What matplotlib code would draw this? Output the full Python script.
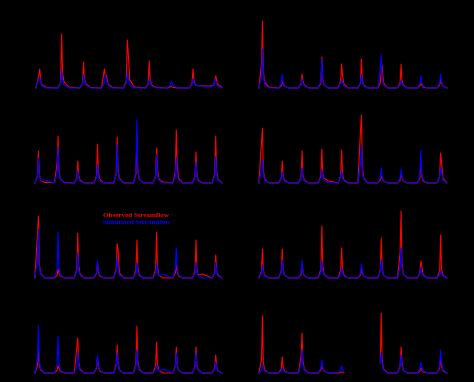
import numpy as np
import matplotlib
matplotlib.use("Agg")
import matplotlib.pyplot as plt

nan = np.nan

# sampling points inside each water year (fraction of the year)
season = [0.45, 0.58, 0.63, 0.67, 0.74, 0.95]

# observed / simulated streamflow, one row per year, six samples per row
obs_a = [[1, 13, 20, 8, 4, 1.5], [1, 6, 55, 16, 7, 2], [1, 5, 27, 10, 5, 1.5],
         [1, 20, 12, 14, 5, 1.5], [1, 8, 49, 36, 9, 2], [1, 5, 28, 10, 4, 1.5],
         [1, 2, 3, 2, 1.5, 1], [1, 5, 20, 8, 4, 3], [3, 4, 8, 13, 5, 1.5]]
sim_a = [[1, 10, 11, 7, 3, 1], [1, 5, 18, 9, 4, 1], [1, 5, 14, 8, 4, 1],
         [1, 6, 14, 9, 4, 1], [1, 6, 16, 10, 4, 1], [1, 4, 10, 7, 3, 1],
         [1, 3, 8, 6, 3, 1], [1, 4, 10, 6, 4, 3], [2, 4, 10, 7, 3, 1]]

obs_b = [[1, 25, 68, 18, 7, 2], [1, 3, 8, 5, 3, 1], [1, 5, 15, 8, 4, 1],
         [1, 6, 32, 10, 4, 1], [1, 8, 25, 14, 5, 1], [1, 6, 30, 9, 4, 1],
         [1, 6, 18, 24, 6, 1], [1, 6, 25, 9, 4, 1], [1, 3, 6, 4, 2, 1],
         [1, 4, 10, 6, 3, 1]]
sim_b = [[1, 12, 40, 14, 5, 1], [1, 5, 15, 7, 3, 1], [1, 4, 10, 6, 3, 1],
         [1, 8, 30, 10, 4, 1], [1, 6, 9, 7, 3, 1], [1, 6, 14, 8, 3, 1],
         [1, 20, 34, 12, 4, 1], [1, 4, 8, 6, 3, 1], [1, 5, 13, 7, 3, 1],
         [1, 6, 15, 8, 3, 1]]

obs_c = [[1, 8, 33, 10, 4, 1.5], [1.5, 21, 48, 14, 5, 1.5], [1, 6, 23, 9, 4, 1],
         [1, 8, 40, 12, 5, 1], [1, 10, 47, 15, 6, 1], [1, 10, 47, 14, 5, 1],
         [1, 8, 36, 16, 5, 2], [1, 12, 54, 20, 6, 1], [1, 8, 32, 10, 4, 1],
         [1, 10, 48, 14, 5, 1]]
sim_c = [[1, 8, 26, 9, 4, 4], [1, 12, 37, 12, 5, 1], [1, 5, 13, 7, 3, 1],
         [1, 6, 19, 8, 3, 1], [1, 10, 39, 12, 5, 1], [1, 12, 64, 16, 5, 1],
         [1, 8, 29, 10, 4, 1], [1, 8, 26, 9, 4, 1], [1, 7, 22, 8, 3, 1],
         [1, 8, 27, 10, 4, 1]]

obs_d = [[1, 42, 56, 14, 5, 1], [1, 6, 23, 8, 4, 1], [1, 7, 33, 9, 4, 1],
         [1, 8, 35, 10, 6, 3], [1, 8, 34, 10, 4, 1], [1, 53, 69, 18, 6, 1],
         [1, 4, 8, 6, 3, 1], [1, 4, 10, 7, 3, 1], [1, 6, 21, 8, 3, 1],
         [1, 8, 31, 22, 6, 1]]
sim_d = [[1, 14, 24, 10, 4, 1], [1, 5, 12, 7, 3, 1], [1, 6, 16, 8, 3, 1],
         [1, 6, 14, 8, 4, 1], [1, 8, 12, 7, 3, 1], [1, 20, 37, 12, 5, 1],
         [1, 6, 16, 8, 3, 1], [1, 6, 15, 8, 3, 1], [1, 8, 34, 10, 4, 1],
         [1, 8, 16, 12, 4, 1]]

obs_e = [[1, 43, 63, 16, 6, 1], [1, 4, 10, 6, 3, 1], [1, 10, 46, 14, 5, 1],
         [1, 6, 16, 8, 3, 1], [1, 10, 35, 30, 6, 1], [1, 9, 39, 12, 4, 1],
         [1, 10, 47, 12, 4, 1], [1, 6, 14, 8, 3, 1], [1, 8, 39, 10, 4, 5],
         [1, 6, 24, 9, 4, 1]]
sim_e = [[1, 18, 50, 14, 5, 1], [1, 10, 47, 12, 4, 1], [1, 8, 26, 10, 4, 1],
         [1, 7, 18, 9, 4, 1], [1, 8, 21, 10, 4, 1], [1, 6, 16, 8, 3, 1],
         [1, 6, 15, 8, 3, 5], [1, 10, 31, 12, 4, 1], [1, 6, 16, 8, 3, 1],
         [1, 6, 16, 8, 3, 1]]

obs_f = [[1, 8, 30, 9, 4, 1], [1, 8, 30, 10, 4, 1], [1, 5, 14, 8, 3, 1],
         [1, 10, 53, 14, 5, 1], [1, 9, 31, 10, 4, 1], [1, 4, 11, 6, 3, 1],
         [1, 9, 41, 12, 4, 1], [1, 26, 68, 16, 5, 1], [1, 6, 18, 14, 4, 1],
         [1, 8, 44, 10, 4, 1]]
sim_f = [[1, 6, 14, 8, 3, 1], [1, 7, 19, 9, 4, 1], [1, 7, 19, 8, 3, 1],
         [1, 7, 18, 9, 4, 1], [1, 5, 11, 7, 3, 1], [1, 6, 15, 8, 3, 1],
         [1, 8, 19, 9, 4, 1], [1, 12, 31, 12, 5, 1], [1, 5, 11, 7, 3, 1],
         [1, 4, 8, 6, 3, 1]]

obs_g = [[1, 8, 25, 10, 4, 1], [1, 4, 8, 6, 3, 1], [1, 27, 36, 12, 5, 1],
         [1, 6, 16, 8, 3, 1], [1, 10, 29, 12, 4, 1], [1, 10, 48, 14, 5, 1],
         [1, 8, 32, 10, 4, 1], [1, 8, 27, 10, 4, 1], [1, 8, 27, 9, 4, 1],
         [1, 6, 19, 8, 3, 1]]
sim_g = [[1, 14, 48, 14, 5, 1], [1, 10, 38, 12, 4, 1], [1, 8, 21, 10, 4, 1],
         [1, 7, 19, 9, 4, 1], [1, 8, 21, 10, 4, 1], [1, 8, 24, 10, 4, 1],
         [1, 4, 9, 6, 3, 5], [1, 8, 21, 10, 4, 1], [1, 8, 21, 9, 4, 1],
         [1, 5, 12, 7, 3, 1]]

obs_h = [[1, 14, 58, 12, 4, 1], [1, 5, 17, 8, 3, 1], [1, 18, 41, 14, 5, 1],
         [1, 4, 8, 6, 3, 1], [1, 1.5, 2, 1.5, 1, nan], [nan] * 6,
         [nan, 12, 61, 14, 5, 1], [1, 8, 27, 12, 4, 1], [1, 3, 6, 4, 2, 1],
         [1, 6, 17, 8, 3, 1]]
sim_h = [[1, 4, 9, 6, 3, 1], [1, 3, 6, 4, 2, 1], [1, 10, 24, 10, 4, 1],
         [1, 6, 14, 7, 3, 1], [1, 4, 8, 5, 2, nan], [nan] * 6,
         [nan, 10, 22, 10, 4, 1], [1, 8, 19, 9, 4, 1], [1, 5, 12, 7, 3, 1],
         [1, 8, 24, 12, 4, 1]]

panels = [(obs_a, sim_a), (obs_b, sim_b), (obs_c, sim_c), (obs_d, sim_d),
          (obs_e, sim_e), (obs_f, sim_f), (obs_g, sim_g), (obs_h, sim_h)]

W, H = 474, 382
fig = plt.figure(figsize=(W / 100, H / 100), dpi=100, facecolor="black")

baselines = [89, 184, 279, 374]   # pixel rows of the zero line
lefts = [(26, 197), (250, 198)]
ax_h = 80

axes = []
for k, (obs, sim) in enumerate(panels):
    r, c = divmod(k, 2)
    x0, w = lefts[c]
    ax = fig.add_axes([x0 / W, (H - baselines[r]) / H, w / W, ax_h / H])
    ax.set_facecolor("black")
    n = len(obs)
    t = np.array([yr + s for yr in range(n) for s in season])
    ax.plot(t, np.ravel(obs), color="red", lw=0.8)
    ax.plot(t, np.ravel(sim), color="blue", lw=0.8)
    ax.set_xlim(0, n)
    ax.set_ylim(0, ax_h)
    # axes, ticks and labels were black on black in the original
    for sp in ax.spines.values():
        sp.set_color("black")
    ax.tick_params(colors="black", labelsize=4, length=2, pad=1)
    axes.append(ax)

leg = axes[4].legend(["Observed Streamflow", "Simulated Streamflow"],
                     loc="upper left", bbox_to_anchor=(0.375, 0.885),
                     frameon=False, handlelength=0, handletextpad=0,
                     borderpad=0, labelspacing=0.2,
                     labelcolor=["red", "blue"],
                     prop={"family": "Liberation Serif", "weight": "bold", "size": 5.1})
for h in leg.legend_handles:
    h.set_visible(False)

fig.savefig("out.png", dpi=100, facecolor="black")
